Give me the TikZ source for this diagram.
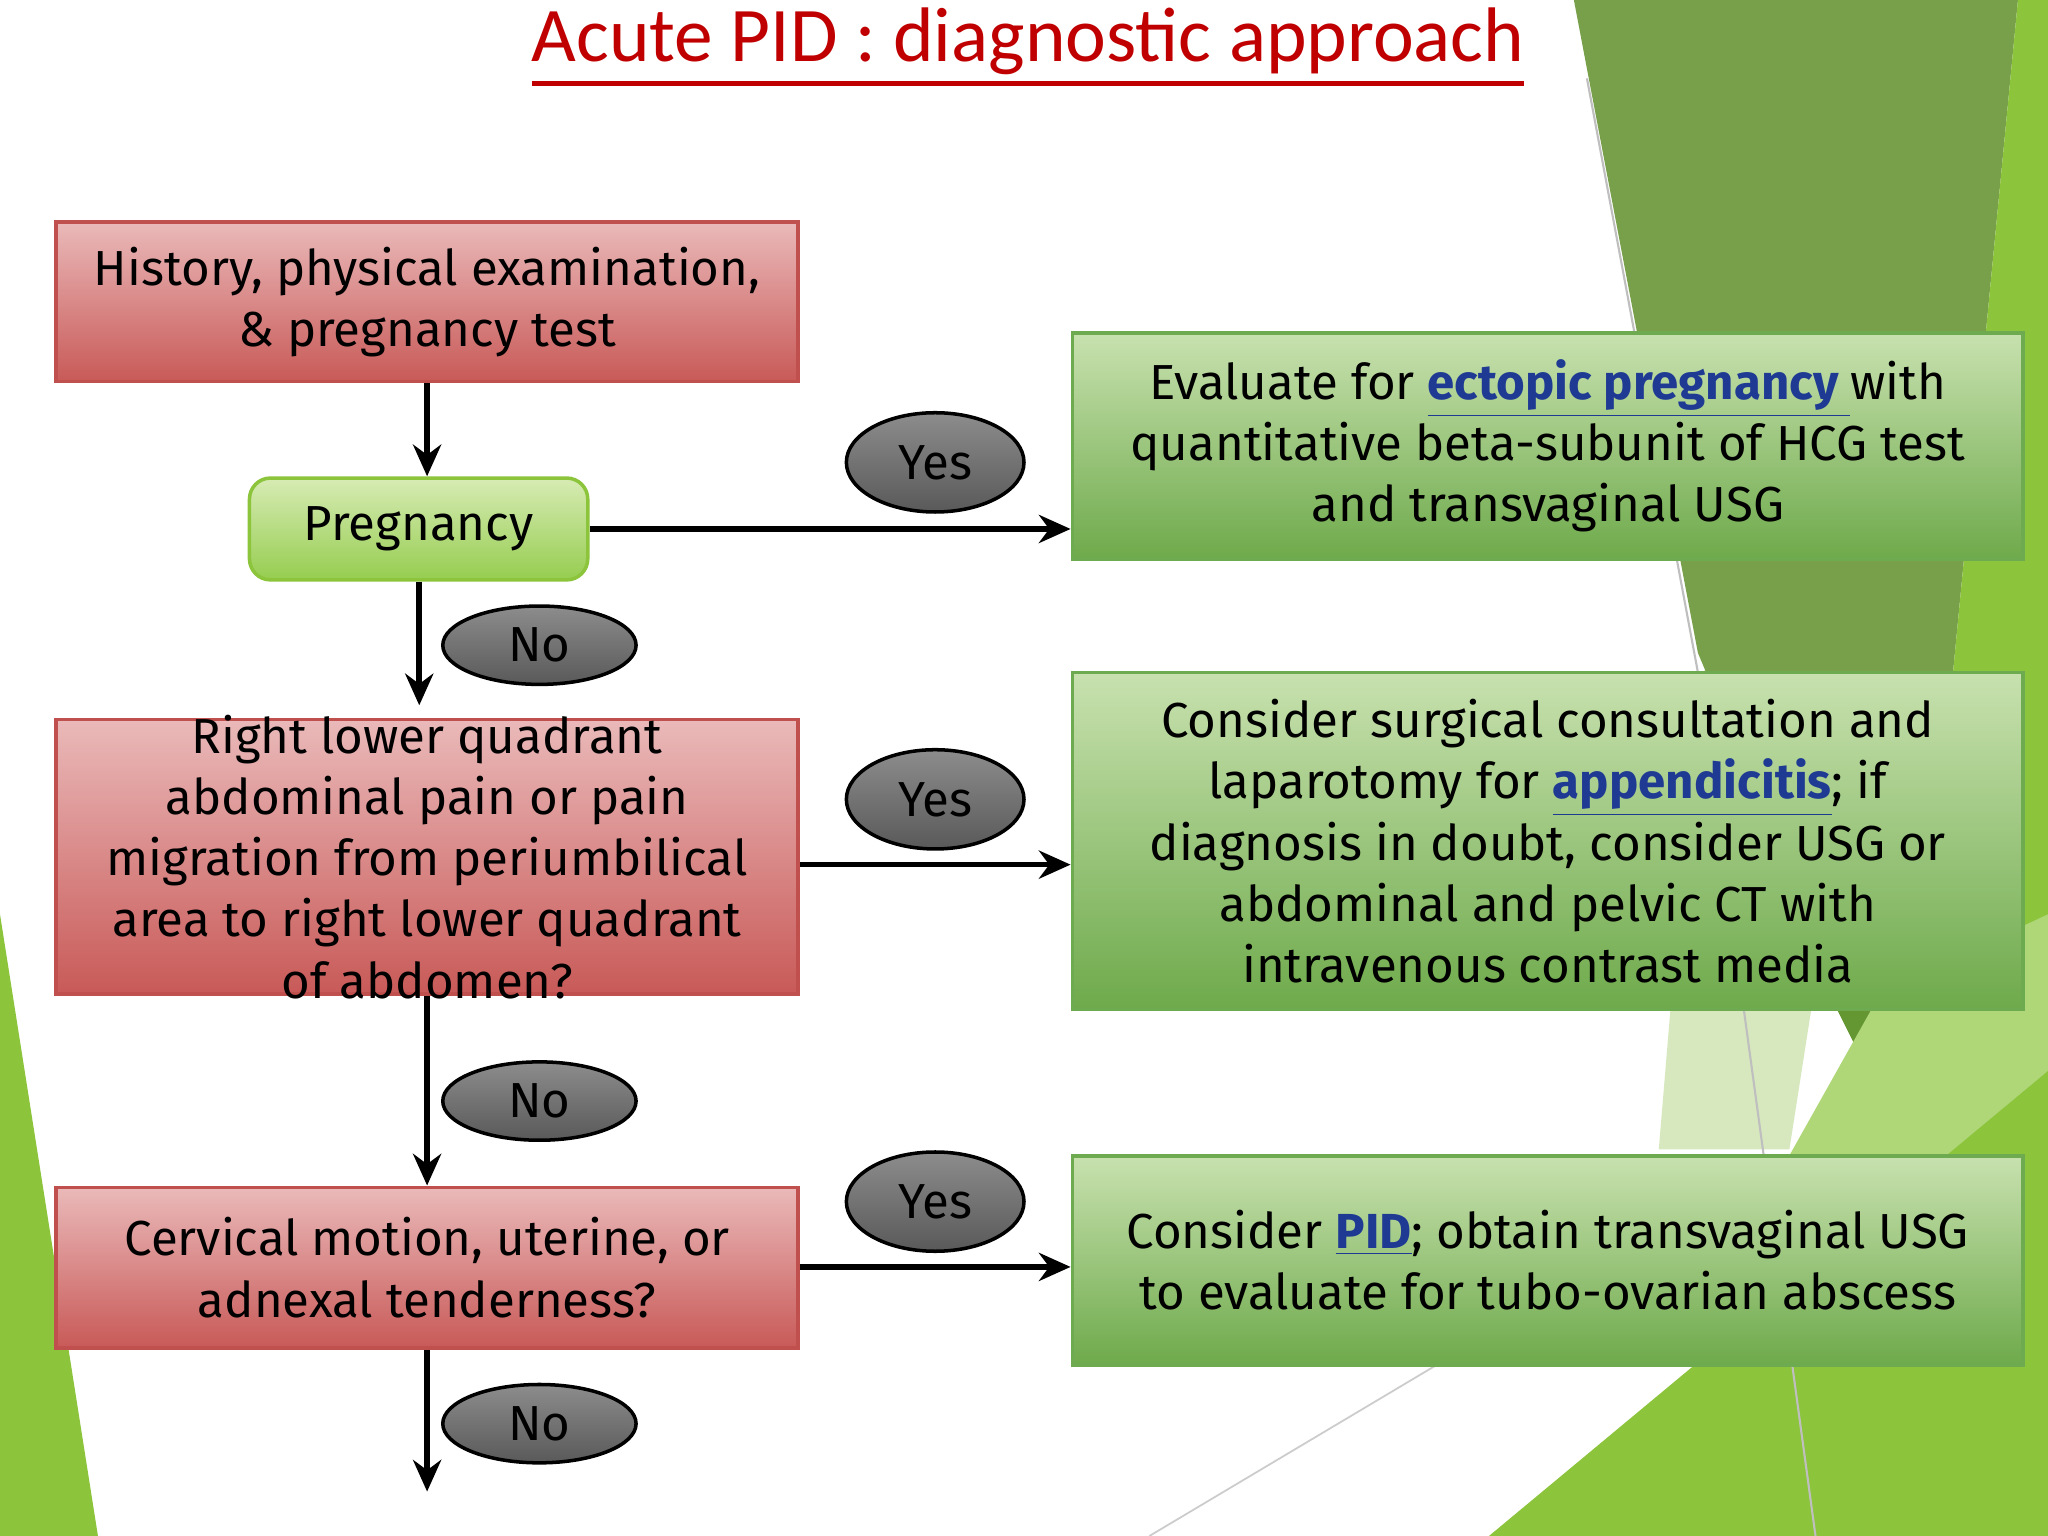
\documentclass[tikz,border=0pt]{standalone}
\usepackage{fontspec}
\setmainfont{Fira Sans}
\newfontfamily\titlefont{Carlito}
\usetikzlibrary{shapes.geometric,arrows.meta}
\newcommand\px[1]{#1*0.01306cm}
\definecolor{tred}{HTML}{C00000}
\definecolor{lnk}{HTML}{1F3A93}
\definecolor{rbot}{RGB}{200,90,88}
\definecolor{rtop}{RGB}{234,185,185}
\definecolor{rdraw}{RGB}{192,80,77}
\definecolor{gdraw}{RGB}{110,170,80}
\definecolor{gtop}{RGB}{200,225,175}
\definecolor{gbot}{RGB}{110,170,75}
\definecolor{pdraw}{RGB}{140,196,60}
\definecolor{ptop}{RGB}{215,235,180}
\definecolor{pbot}{RGB}{150,205,80}
\definecolor{bgA}{RGB}{120,160,75}
\definecolor{bgB}{RGB}{140,196,60}
\definecolor{bgC}{RGB}{100,150,50}
\definecolor{bgD}{RGB}{215,232,190}
\definecolor{bgE}{RGB}{175,215,120}
\begin{document}
\begin{tikzpicture}[x=0.01306cm,y=-0.01306cm,
  redbox/.style={draw=rdraw,line width=1pt,shading=axis,top color=rtop,bottom color=rbot,align=center,inner sep=0pt},
  greenbox/.style={draw=gdraw,line width=1pt,shading=axis,top color=gtop,bottom color=gbot,align=center,inner sep=0pt},
  preg/.style={draw=pdraw,line width=1pt,rounded corners=6pt,shading=axis,top color=ptop,bottom color=pbot,inner sep=0pt},
  lab/.style={ellipse,draw=black,line width=1pt,shading=axis,top color=black!45,bottom color=black!65,inner sep=0pt,font=\fontsize{14}{16}\selectfont},
  arr/.style={-{Stealth[length=9pt,width=8pt]},line width=1.6pt},
  txt/.style={font=\fontsize{14}{17.4}\selectfont}]
\useasboundingbox (0,0) rectangle (1568,1176);
\fill[white] (0,0) rectangle (1568,1176);
% background shapes
\fill[bgD] (1300,520) -- (1330,480) -- (1420,560) -- (1370,880) -- (1270,880) -- cycle;
\fill[bgA] (1205,0) -- (1545,0) -- (1460,880) -- (1300,500) -- cycle;
\fill[bgB] (1545,0) -- (1568,0) -- (1568,1176) -- (1460,880) -- cycle;
\fill[bgC] (1400,760) -- (1460,700) -- (1460,880) -- cycle;
\fill[bgE] (1280,1045) -- (1440,760) -- (1568,700) -- (1568,900) -- cycle;
\fill[bgB] (1140,1176) -- (1568,820) -- (1568,1176) -- cycle;
\fill[bgB] (0,700) -- (75,1176) -- (0,1176) -- cycle;
\draw[black!25,line width=0.6pt] (1215,60) -- (1300,515) -- (1390,1176);
\draw[black!20,line width=0.5pt] (880,1176) -- (1100,1045);
% title
\node[font=\titlefont\fontsize{22}{26}\selectfont,text=tred] (title) at (787,32) {Acute PID : diagnostic approach};
\draw[tred,line width=1.5pt] (407,64) -- (1167,64);
% nodes
\node[redbox,txt,minimum width=\px{568},minimum height=\px{122}] (h) at (327,231) {History, physical examination,\\ \& pregnancy test};
\node[preg,txt,minimum width=\px{259},minimum height=\px{78}] (p) at (320.5,405) {Pregnancy};
\node[greenbox,txt,minimum width=\px{728},minimum height=\px{173}] (e) at (1185,341.5) {Evaluate for \textcolor{lnk}{\underline{\textbf{ectopic pregnancy }}}with\\ quantitative beta-subunit of HCG test\\ and transvaginal USG};
\node[redbox,minimum width=\px{568},minimum height=\px{210}] (r) at (327,656) {};
\node[txt,align=center] at (327,656) {Right lower quadrant\\ abdominal pain or pain\\ migration from periumbilical\\ area to right lower quadrant\\ of abdomen?};
\node[greenbox,txt,minimum width=\px{728},minimum height=\px{258}] (a) at (1185,644) {Consider surgical consultation and\\ laparotomy for \textcolor{lnk}{\underline{\textbf{appendicitis}}}; if\\ diagnosis in doubt, consider USG or\\ abdominal and pelvic CT with\\ intravenous contrast media};
\node[redbox,txt,minimum width=\px{568},minimum height=\px{123}] (c) at (327,970.5) {Cervical motion, uterine, or\\ adnexal tenderness?};
\node[greenbox,txt,minimum width=\px{728},minimum height=\px{160}] (d) at (1185,965) {Consider \textcolor{lnk}{\underline{\textbf{PID}}}; obtain transvaginal USG\\ to evaluate for tubo-ovarian abscess};
\coordinate (end) at (327,1142);
\coordinate (pin) at (321,540);
% labels
\node[lab,minimum width=\px{136},minimum height=\px{76}] (y1) at (716,354) {Yes};
\node[lab,minimum width=\px{136},minimum height=\px{76}] (y2) at (716,612) {Yes};
\node[lab,minimum width=\px{136},minimum height=\px{76}] (y3) at (716,920) {Yes};
\node[lab,minimum width=\px{148},minimum height=\px{60}] (n1) at (413,494) {No};
\node[lab,minimum width=\px{148},minimum height=\px{60}] (n2) at (413,843) {No};
\node[lab,minimum width=\px{148},minimum height=\px{60}] (n3) at (413,1090) {No};
% arrows
\draw[arr] (h.south -| 327,0) -- (p.north -| 327,0);
\draw[arr] (p.south -| pin) -- (pin);
\draw[arr] (p.east) -- (p.east -| e.west);
\draw[arr] (r.east |- 0,662) -- (a.west |- 0,662);
\draw[arr] (r.south) -- (c.north);
\draw[arr] (c.east |- 0,970) -- (d.west |- 0,970);
\draw[arr] (c.south) -- (end);
\end{tikzpicture}
\end{document}
